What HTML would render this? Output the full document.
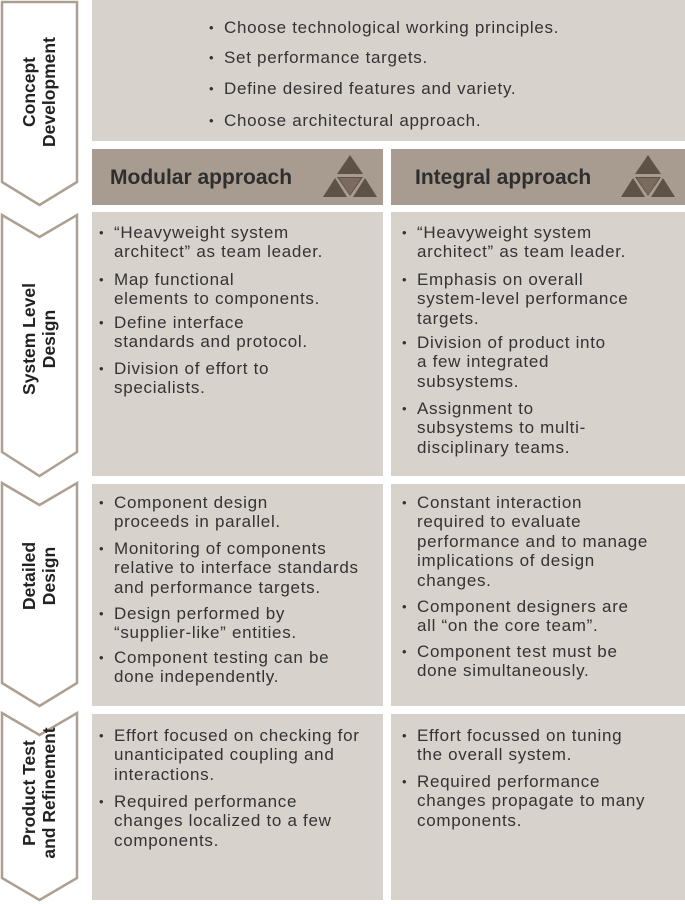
<!DOCTYPE html>
<html><head><meta charset="utf-8"><style>
body{margin:0;width:685px;height:904px;background:#fff;position:relative;overflow:hidden;font-family:"Liberation Sans",sans-serif;color:#333;}
.p{position:absolute;background:#d8d2cc;}
.h{position:absolute;background:#a89c90;}
.h span{position:absolute;left:18px;top:17px;font-weight:bold;font-size:21px;color:#2e2e2e;}
.i{position:absolute;font-size:17px;line-height:19.4px;letter-spacing:0.7px;padding-left:15px;white-space:nowrap;}
.i:before{content:"•";position:absolute;left:0;top:0;font-size:13px;}
.l{position:absolute;font-weight:bold;font-size:17.5px;line-height:20px;text-align:center;transform:rotate(-90deg);transform-origin:center;white-space:nowrap;color:#222;}
</style></head><body>
<svg width="90" height="904" style="position:absolute;left:0;top:0">
<g fill="#fff" stroke="#ad9f92" stroke-width="2.5">
<polygon points="2,2 77,2 77,182 39.5,205 2,182"/>
<polygon points="2,215 39.5,237 77,215 77,452 39.5,476 2,452"/>
<polygon points="2,483 39.5,505 77,483 77,683 39.5,706 2,683"/>
<polygon points="2,713 39.5,735 77,713 77,878 39.5,900 2,878"/>
</g></svg>
<div class="l" style="left:-36px;top:72px;width:150px;">Concept<br>Development</div>
<div class="l" style="left:-36px;top:319px;width:150px;">System Level<br>Design</div>
<div class="l" style="left:-36px;top:556px;width:150px;">Detailed<br>Design</div>
<div class="l" style="left:-36px;top:773px;width:150px;">Product Test<br>and Refinement</div>

<div class="p" style="left:92px;top:0;width:593px;height:141px"></div>
<div class="h" style="left:92px;top:149px;width:291px;height:56px"><span>Modular approach</span></div>
<div class="h" style="left:391px;top:149px;width:294px;height:56px"><span style="left:24px">Integral approach</span></div>
<svg width="685" height="210" style="position:absolute;left:0;top:0">
<g fill="#5e5145"><polygon points="350,155 363,174 337,174"/><polygon points="337,177 363,177 350,196 "/><polygon points="335,178 347,197 323,197"/><polygon points="365,178 377,197 353,197"/>
<polygon points="648,155 661,174 635,174"/><polygon points="635,177 661,177 648,196"/><polygon points="633,178 645,197 621,197"/><polygon points="663,178 675,197 651,197"/></g>
<g fill="#7a6b5e"><polygon points="339,178 361,178 350,195"/><polygon points="637,178 659,178 648,195"/></g>
</svg>
<div class="p" style="left:92px;top:212px;width:291px;height:264px"></div>
<div class="p" style="left:391px;top:212px;width:294px;height:264px"></div>
<div class="p" style="left:92px;top:484px;width:291px;height:222px"></div>
<div class="p" style="left:391px;top:484px;width:294px;height:222px"></div>
<div class="p" style="left:92px;top:714px;width:291px;height:186px"></div>
<div class="p" style="left:391px;top:714px;width:294px;height:186px"></div>

<div class="i" style="left:209px;top:18px">Choose technological working principles.</div>
<div class="i" style="left:209px;top:48px">Set performance targets.</div>
<div class="i" style="left:209px;top:79px">Define desired features and variety.</div>
<div class="i" style="left:209px;top:111px">Choose architectural approach.</div>

<div class="i" style="left:99px;top:223px">“Heavyweight system<br>architect” as team leader.</div>
<div class="i" style="left:99px;top:270px">Map functional<br>elements to components.</div>
<div class="i" style="left:99px;top:313px">Define interface<br>standards and protocol.</div>
<div class="i" style="left:99px;top:359px">Division of effort to<br>specialists.</div>

<div class="i" style="left:402px;top:223px">“Heavyweight system<br>architect” as team leader.</div>
<div class="i" style="left:402px;top:270px">Emphasis on overall<br>system-level performance<br>targets.</div>
<div class="i" style="left:402px;top:333px">Division of product into<br>a few integrated<br>subsystems.</div>
<div class="i" style="left:402px;top:399px">Assignment to<br>subsystems to multi-<br>disciplinary teams.</div>

<div class="i" style="left:99px;top:493px">Component design<br>proceeds in parallel.</div>
<div class="i" style="left:99px;top:539px">Monitoring of components<br>relative to interface standards<br>and performance targets.</div>
<div class="i" style="left:99px;top:604px">Design performed by<br>“supplier-like” entities.</div>
<div class="i" style="left:99px;top:648px">Component testing can be<br>done independently.</div>

<div class="i" style="left:402px;top:493px">Constant interaction<br>required to evaluate<br>performance and to manage<br>implications of design<br>changes.</div>
<div class="i" style="left:402px;top:597px">Component designers are<br>all “on the core team”.</div>
<div class="i" style="left:402px;top:642px">Component test must be<br>done simultaneously.</div>

<div class="i" style="left:99px;top:726px">Effort focused on checking for<br>unanticipated coupling and<br>interactions.</div>
<div class="i" style="left:99px;top:792px">Required performance<br>changes localized to a few<br>components.</div>

<div class="i" style="left:402px;top:726px">Effort focussed on tuning<br>the overall system.</div>
<div class="i" style="left:402px;top:772px">Required performance<br>changes propagate to many<br>components.</div>
</body></html>
